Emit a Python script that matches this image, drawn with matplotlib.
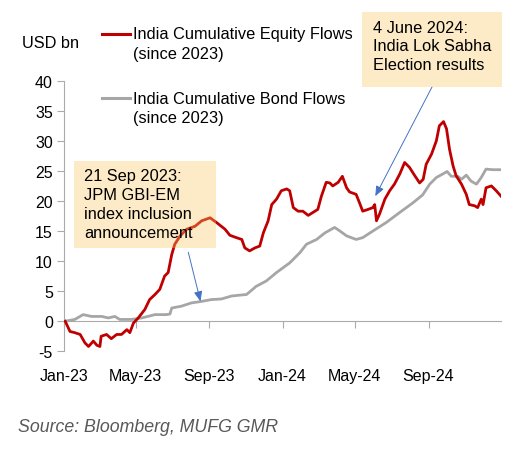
import pandas as pd
import matplotlib.pyplot as plt
import matplotlib.dates as mdates
from matplotlib.lines import Line2D
from matplotlib.patches import Rectangle

## Cumulative flows (USD bn)
equity_dates = ['2023-01-03', '2023-01-11', '2023-01-19', '2023-01-28', '2023-02-05', '2023-02-11',
                '2023-02-19', '2023-02-25', '2023-03-02', '2023-03-04', '2023-03-13', '2023-03-21',
                '2023-03-30', '2023-04-07', '2023-04-16', '2023-04-21', '2023-04-27', '2023-05-05',
                '2023-05-16', '2023-05-24', '2023-06-02', '2023-06-10', '2023-06-18', '2023-06-24',
                '2023-06-30', '2023-07-05', '2023-07-14', '2023-07-25', '2023-08-08', '2023-08-19',
                '2023-09-02', '2023-09-13', '2023-09-27', '2023-10-05', '2023-10-16', '2023-10-25',
                '2023-10-30', '2023-11-07', '2023-11-16', '2023-11-24', '2023-11-30', '2023-12-08',
                '2023-12-14', '2023-12-22', '2023-12-30', '2024-01-08', '2024-01-13', '2024-01-19',
                '2024-01-27', '2024-02-04', '2024-02-13', '2024-02-21', '2024-02-29', '2024-03-06',
                '2024-03-14', '2024-03-20', '2024-03-25', '2024-04-03', '2024-04-10', '2024-04-17',
                '2024-04-22', '2024-05-03', '2024-05-09', '2024-05-14', '2024-05-23', '2024-05-31',
                '2024-06-03', '2024-06-06', '2024-06-11', '2024-06-20', '2024-06-28', '2024-07-06',
                '2024-07-15', '2024-07-23', '2024-07-31', '2024-08-09', '2024-08-17', '2024-08-23',
                '2024-08-28', '2024-09-06', '2024-09-14', '2024-09-19', '2024-09-26', '2024-10-01',
                '2024-10-06', '2024-10-12', '2024-10-17', '2024-10-26', '2024-11-03', '2024-11-08',
                '2024-11-17', '2024-11-22', '2024-11-28', '2024-12-01', '2024-12-06', '2024-12-15',
                '2024-12-23', '2024-12-31']
equity_flows = [0.0, -1.7, -1.9, -2.2, -3.6, -4.2,
                -3.3, -4.0, -4.2, -2.5, -2.2, -2.9,
                -2.2, -2.2, -1.4, -1.9, -0.3, 0.55,
                1.95, 3.6, 4.45, 5.3, 7.5, 8.1,
                11.1, 12.8, 14.2, 15.3, 15.8, 16.7,
                17.2, 16.4, 15.3, 14.3, 13.9, 13.6,
                12.2, 11.7, 12.2, 12.5, 14.7, 16.7,
                19.4, 20.3, 21.7, 22.0, 21.7, 18.9,
                18.3, 18.3, 17.6, 18.1, 18.6, 20.8,
                23.1, 23.0, 22.5, 23.1, 24.1, 22.2,
                21.5, 21.1, 19.6, 18.3, 18.6, 18.9,
                19.4, 16.7, 17.8, 20.3, 21.7, 22.8,
                24.5, 26.4, 25.6, 24.2, 23.0, 23.6,
                26.1, 27.8, 30.0, 32.5, 33.2, 32.0,
                28.6, 25.8, 24.2, 22.8, 21.1, 19.4,
                19.2, 18.9, 20.3, 19.4, 22.2, 22.5,
                21.7, 20.8]

bond_dates = ['2023-01-03', '2023-01-19', '2023-02-02', '2023-02-16', '2023-03-05', '2023-03-16',
              '2023-03-27', '2023-04-04', '2023-04-24', '2023-05-11', '2023-06-02', '2023-06-21',
              '2023-06-27', '2023-06-30', '2023-07-16', '2023-08-02', '2023-08-19', '2023-09-04',
              '2023-09-21', '2023-10-08', '2023-11-02', '2023-11-18', '2023-12-05', '2023-12-22',
              '2024-01-13', '2024-01-30', '2024-02-10', '2024-02-27', '2024-03-12', '2024-03-28',
              '2024-04-06', '2024-04-17', '2024-05-03', '2024-05-14', '2024-05-31', '2024-06-22',
              '2024-07-15', '2024-08-06', '2024-08-22', '2024-09-03', '2024-09-14', '2024-09-25',
              '2024-10-02', '2024-10-09', '2024-10-20', '2024-10-26', '2024-11-03', '2024-11-11',
              '2024-11-20', '2024-11-28', '2024-12-06', '2024-12-17', '2024-12-31']
bond_flows = [0.0, 0.3, 1.1, 0.8, 0.8, 0.55,
              0.8, 0.3, 0.3, 0.55, 1.1, 1.1,
              1.2, 2.2, 2.5, 3.05, 3.3, 3.6,
              3.7, 4.2, 4.45, 5.8, 6.7, 8.1,
              9.7, 11.4, 12.8, 13.6, 14.7, 15.6,
              15.0, 14.2, 13.6, 13.9, 15.0, 16.4,
              18.1, 19.7, 21.0, 22.8, 23.9, 24.5,
              24.9, 24.1, 24.1, 23.6, 24.3, 23.3,
              22.8, 23.9, 25.3, 25.2, 25.2]

equity_label = ['India Cumulative Equity Flows', '(since 2023)']
bond_label = ['India Cumulative Bond Flows', '(since 2023)']
election_note = ['4 June 2024:', 'India Lok Sabha', 'Election results']
election_point = ('2024-06-04', 20.8)
gbi_note = ['21 Sep 2023:', 'JPM GBI-EM', 'index inclusion', 'announcement']
gbi_point = ('2023-08-17', 3.3)

## Colours
red = '#C00000'
grey = '#A6A6A6'
axis_grey = '#ABABAB'
box_colour = '#FBC45E'
arrow_blue = '#4472C4'

W, H = 523, 452
plt.rcParams['font.family'] = ['Liberation Sans', 'DejaVu Sans']
plt.rcParams['axes.unicode_minus'] = False

def fx(px):
    return px / W

def fy(py):
    return 1 - py / H

fig = plt.figure(figsize=(W / 100, H / 100), dpi=100)
ax = fig.add_axes([fx(64), fy(352.3), fx(501) - fx(64), fy(81.7) - fy(352.3)])

ax.plot(pd.to_datetime(bond_dates), bond_flows, color=grey, lw=2.0, zorder=2)
ax.plot(pd.to_datetime(equity_dates), equity_flows, color=red, lw=2.0, zorder=3)

ax.set_xlim(pd.Timestamp('2023-01-01'), pd.Timestamp('2024-12-31'))
ax.set_ylim(-5, 40)
ax.set_yticks(range(-5, 41, 5))

for s in ['top', 'right', 'bottom']:
    ax.spines[s].set_visible(False)
ax.spines['left'].set_color(axis_grey)
ax.tick_params(axis='y', colors=axis_grey, labelcolor='black', length=5, labelsize=11.5, pad=3)

ax.xaxis.set_major_locator(mdates.MonthLocator(bymonth=[1, 5, 9]))
ax.xaxis.set_major_formatter(mdates.DateFormatter('%b-%y'))
ax.tick_params(axis='x', length=0, labelsize=11.5, pad=12)

## x axis line sits at zero, labels stay at the bottom
secax = ax.secondary_xaxis(5 / 45)
secax.xaxis.set_major_locator(mdates.MonthLocator(bymonth=[1, 5, 9]))
secax.xaxis.set_major_formatter(plt.NullFormatter())
secax.spines['bottom'].set_color(axis_grey)
secax.tick_params(axis='x', colors=axis_grey, length=5)

fig.text(fx(22), fy(43), 'USD bn', fontsize=11.8, va='center')

## Legend, drawn by hand so the line sits by the first text row
for (y0, lab, col) in [(35, equity_label, red), (99.3, bond_label, grey)]:
    fig.add_artist(Line2D([fx(102), fx(130)], [fy(y0), fy(y0)], color=col, lw=2.2))
    for i, line in enumerate(lab):
        fig.text(fx(133), fy(y0 + 19 * i), line, fontsize=11.8, va='center')

## Annotation boxes
def note_box(x0, y0, x1, y1, lines, tx, ty, step, target, tail):
    fig.add_artist(Rectangle((fx(x0), fy(y1)), fx(x1) - fx(x0), fy(y0) - fy(y1),
                             facecolor=box_colour, alpha=0.35, edgecolor='none', zorder=5))
    for i, line in enumerate(lines):
        fig.text(fx(tx), fy(ty + step * i), line, fontsize=11.8, va='center', zorder=6)
    ax.annotate('', xy=(pd.Timestamp(target[0]), target[1]), xycoords='data',
                xytext=(fx(tail[0]), fy(tail[1])), textcoords='figure fraction',
                arrowprops=dict(arrowstyle='-|>,head_length=0.6,head_width=0.25',
                                color=arrow_blue, lw=0.7, shrinkA=0, shrinkB=0),
                annotation_clip=False, zorder=7)

note_box(362, 12.7, 502, 88, election_note, 373, 28.3, 18.4, election_point, (432, 88))
note_box(74, 161.7, 215.7, 249.3, gbi_note, 84.3, 176.7, 18.9, gbi_point, (188.3, 253.3))

fig.text(fx(18), fy(428), 'Source: Bloomberg, MUFG GMR', fontsize=12.8, style='italic',
         color='#595959', va='center')

fig.savefig('out.png', dpi=100)
